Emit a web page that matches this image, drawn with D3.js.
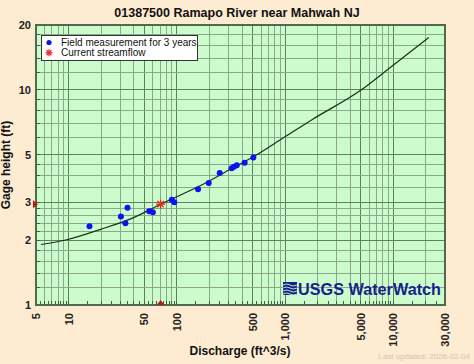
<!DOCTYPE html>
<html>
<head>
<meta charset="utf-8">
<script src="https://cdn.jsdelivr.net/npm/d3@7"></script>
<style>
  html, body { margin: 0; padding: 0; background: #fdebd2; }
  svg { display: block; }
</style>
</head>
<body>
<svg id="chart" width="474" height="364"></svg>
<script>
// ---- data ----
const title = "01387500 Ramapo River near Mahwah NJ";
const xLabel = "Discharge (ft^3/s)";
const yLabel = "Gage height (ft)";
const legendLabels = ["Field measurement for 3 years", "Current streamflow"];
const xTickValues = [5, 10, 50, 100, 500, 1000, 5000, 10000, 30000];
const yTickValues = [1, 2, 3, 5, 10, 20];
const yGridValues = [1.2, 1.4, 1.6, 1.8, 2, 2.2, 2.4, 2.6, 2.8, 3, 3.5, 4, 4.5, 5, 6, 7, 8, 9, 10, 12, 14, 16, 18];
// field measurements: discharge (ft^3/s), gage height (ft)
const measDischarge = [15.6, 30.4, 33.5, 35.0, 55.5, 60.1, 89.8, 94.7, 157, 197, 249, 321, 337, 358, 423, 509];
const measGage      = [2.32, 2.58, 2.40, 2.83, 2.73, 2.70, 3.08, 3.00, 3.45, 3.69, 4.10, 4.32, 4.39, 4.46, 4.58, 4.85];
// rating curve
const ratingDischarge = [5.56, 9.6, 19.4, 39.4, 70.8, 162, 330, 509, 967, 1786, 4990, 9750, 21240];
const ratingGage      = [1.91, 2.01, 2.24, 2.54, 2.94, 3.57, 4.34, 4.88, 5.98, 7.28, 9.94, 12.9, 17.5];
// current streamflow
const currentDischarge = 70.8;
const currentGage = 2.94;
const updated = "Last updated: 2026-02-04";

// ---- layout ----
const svg = d3.select("#chart");
const L = 36, R = 445, T = 25, B = 305;
const x = d3.scaleLog().domain([5, 30000]).range([L, R]);
const y = d3.scaleLog().domain([1, 20]).range([B, T]);
const FONT = "Arial, 'Liberation Sans', sans-serif";

// plot background
svg.append("rect").attr("x", L).attr("y", T).attr("width", R - L).attr("height", B - T)
  .attr("fill", "#ccfccc");

// vertical grid
const xGrid = [];
for (let e = 0; e <= 4; e++) {
  for (let m = 1; m <= 9; m++) {
    const v = m * Math.pow(10, e);
    if (v > 5 && v < 30000) xGrid.push(v);
  }
}
const major = new Set(xTickValues);
svg.append("g").selectAll("line").data(xGrid).join("line")
  .attr("x1", d => x(d)).attr("x2", d => x(d))
  .attr("y1", T).attr("y2", B)
  .attr("stroke", d => major.has(d) ? "#5f7f5f" : "#8aa88a")
  .attr("stroke-width", 1)
  .attr("shape-rendering", "crispEdges");

// horizontal grid
const yMajor = new Set(yTickValues);
svg.append("g").selectAll("line").data(yGridValues).join("line")
  .attr("x1", L).attr("x2", R)
  .attr("y1", d => y(d)).attr("y2", d => y(d))
  .attr("stroke", d => yMajor.has(d) ? "#5f7f5f" : "#8aa88a")
  .attr("stroke-width", 1)
  .attr("shape-rendering", "crispEdges");

// minor ticks along bottom (half values)
const xHalf = [];
for (let e = 0; e <= 4; e++) {
  for (let m = 1; m <= 9; m++) {
    const v = (m + 0.5) * Math.pow(10, e);
    if (v > 5 && v < 30000) xHalf.push(v);
  }
}
svg.append("g").selectAll("line").data(xGrid.concat(xHalf)).join("line")
  .attr("x1", d => x(d)).attr("x2", d => x(d))
  .attr("y1", B).attr("y2", B - 4)
  .attr("stroke", "#3f5f3f").attr("stroke-width", 1)
  .attr("shape-rendering", "crispEdges");
svg.append("g").selectAll("line").data(yGridValues).join("line")
  .attr("x1", L).attr("x2", L + 4)
  .attr("y1", d => y(d)).attr("y2", d => y(d))
  .attr("stroke", "#3f5f3f").attr("stroke-width", 1)
  .attr("shape-rendering", "crispEdges");

// plot frame
svg.append("rect").attr("x", L).attr("y", T).attr("width", R - L).attr("height", B - T)
  .attr("fill", "none").attr("stroke", "#4f6a4f").attr("stroke-width", 1.2)
  .attr("shape-rendering", "crispEdges");

// tick labels
const fmt = d3.format(",");
svg.append("g").selectAll("text").data(xTickValues).join("text")
  .attr("transform", d => `translate(${x(d) + 4},${B + 8}) rotate(-90)`)
  .attr("text-anchor", "end")
  .attr("font-family", FONT)
  .attr("font-size", 11).attr("font-weight", "bold").attr("fill", "#222")
  .text(d => fmt(d));

svg.append("g").selectAll("text").data(yTickValues).join("text")
  .attr("x", L - 5).attr("y", d => y(d) + 4)
  .attr("text-anchor", "end")
  .attr("font-family", FONT)
  .attr("font-size", 11).attr("font-weight", "bold").attr("fill", "#222")
  .text(d => d);

// axis titles
svg.append("text").attr("x", 240).attr("y", 355).attr("text-anchor", "middle")
  .attr("font-family", FONT)
  .attr("font-size", 12).attr("font-weight", "bold").attr("fill", "#111")
  .text(xLabel);
svg.append("text").attr("transform", "translate(10,165) rotate(-90)").attr("text-anchor", "middle")
  .attr("font-family", FONT)
  .attr("font-size", 12).attr("font-weight", "bold").attr("fill", "#111")
  .text(yLabel);

// title
svg.append("text").attr("x", 237).attr("y", 17).attr("text-anchor", "middle")
  .attr("font-family", FONT)
  .attr("font-size", 12.5).attr("font-weight", "bold").attr("fill", "#111")
  .text(title);

// rating curve
const rating = ratingDischarge.map((d, i) => [d, ratingGage[i]]);
svg.append("path").datum(rating)
  .attr("d", d3.line().x(d => x(d[0])).y(d => y(d[1])).curve(d3.curveMonotoneX))
  .attr("fill", "none").attr("stroke", "#1c2e1c").attr("stroke-width", 1.2);

// measurements
const meas = measDischarge.map((d, i) => [d, measGage[i]]);
svg.append("g").selectAll("circle").data(meas).join("circle")
  .attr("cx", d => x(d[0])).attr("cy", d => y(d[1])).attr("r", 3)
  .attr("fill", "#0a14f0");

// asterisk helper
function asterisk(g, cx, cy, r) {
  for (let k = 0; k < 4; k++) {
    const a = k * Math.PI / 4;
    g.append("line")
      .attr("x1", cx - r * Math.cos(a)).attr("y1", cy - r * Math.sin(a))
      .attr("x2", cx + r * Math.cos(a)).attr("y2", cy + r * Math.sin(a))
      .attr("stroke", "#e8281e").attr("stroke-width", 1.3);
  }
}
asterisk(svg.append("g"), x(currentDischarge), y(currentGage), 4.5);

// current markers on axes
svg.append("path")
  .attr("d", `M${x(currentDischarge) - 4},${B} L${x(currentDischarge)},${B - 5} L${x(currentDischarge) + 4},${B} Z`)
  .attr("fill", "#cc1010");
svg.append("path")
  .attr("d", `M${L - 3},${y(currentGage) - 4} L${L + 2},${y(currentGage)} L${L - 3},${y(currentGage) + 4} Z`)
  .attr("fill", "#cc1010");

// legend
const lg = svg.append("g");
lg.append("rect").attr("x", 41).attr("y", 35.5).attr("width", 156).attr("height", 24.5)
  .attr("fill", "#ffffff").attr("stroke", "#333").attr("stroke-width", 1)
  .attr("shape-rendering", "crispEdges");
lg.append("circle").attr("cx", 49).attr("cy", 42.5).attr("r", 2.6).attr("fill", "#0a14f0");
asterisk(lg, 49, 52.8, 3.5);
lg.selectAll("text").data(legendLabels).join("text")
  .attr("x", 61).attr("y", (d, i) => 46 + i * 10)
  .attr("font-family", FONT)
  .attr("font-size", 10).attr("fill", "#111")
  .text(d => d);

// USGS WaterWatch logo
const logo = svg.append("g");
logo.append("rect").attr("x", 283).attr("y", 282).attr("width", 14).attr("height", 13).attr("fill", "#1a1f8c");
for (let k = 0; k < 4; k++) {
  logo.append("path")
    .attr("d", `M283,${285 + k * 3} q4,-2 7,0 t7,0`)
    .attr("fill", "none").attr("stroke", "#ccfccc").attr("stroke-width", 0.9);
}
logo.append("text").attr("x", 298).attr("y", 295)
  .attr("font-family", "'Liberation Sans Narrow', Arial, sans-serif")
  .attr("font-size", 17).attr("font-weight", "bold").attr("fill", "#1a1f8c")
  .attr("textLength", 143).attr("lengthAdjust", "spacingAndGlyphs")
  .text("USGS WaterWatch");

// updated stamp
svg.append("text").attr("x", 470).attr("y", 359).attr("text-anchor", "end")
  .attr("font-family", FONT)
  .attr("font-size", 8).attr("fill", "#cfc6b6")
  .text(updated);
</script>
</body>
</html>
